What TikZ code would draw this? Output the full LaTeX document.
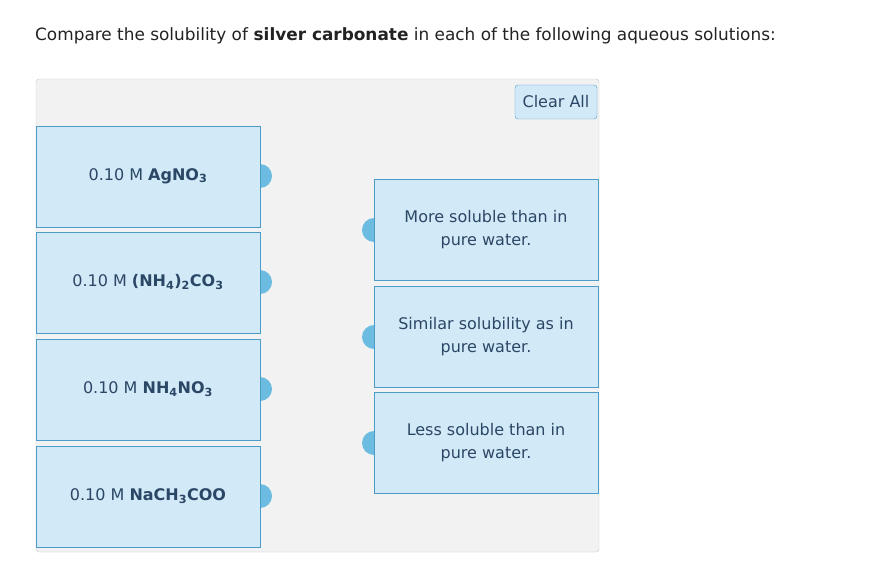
\documentclass[tikz,border=0pt]{standalone}
\usepackage{fontspec}
\setmainfont{DejaVu Sans}
\begin{document}
\begin{tikzpicture}[x=1pt,y=-1pt,
  lbl/.style={font=\fontsize{16}{23}\selectfont, text=labtxt, align=center},
  card/.style={draw=cardborder, fill=cardfill, line width=0.8pt},
  tab/.style={fill=tabcol}]
\definecolor{cardfill}{HTML}{D2E9F7}
\definecolor{cardborder}{HTML}{4D9CC8}
\definecolor{tabcol}{HTML}{6BBCE0}
\definecolor{labtxt}{HTML}{2B4766}
\definecolor{paneltxt}{HTML}{222222}
\useasboundingbox (0,0) rectangle (893,588);
\node[anchor=base west, font=\fontsize{16.9}{20}\selectfont, text=paneltxt, inner sep=0] (title) at (35,41)
  {Compare the solubility of \textbf{silver carbonate} in each of the following aqueous solutions:};
\draw[draw=gray!45, fill=gray!10, rounded corners=3pt] (36,79) rectangle (599,552);
\node[draw=cardborder, fill=cardfill, rounded corners=3pt, minimum width=82, minimum height=34, inner sep=0,
  font=\fontsize{16}{20}\selectfont, text=labtxt] (clear) at (556,102) {Clear All};
% left cards
\foreach \i/\t/\txt in {0/126/{0.10 M \textbf{AgNO\textsubscript{3}}},
  1/232/{0.10 M \textbf{(NH\textsubscript{4})\textsubscript{2}CO\textsubscript{3}}},
  2/339/{0.10 M \textbf{NH\textsubscript{4}NO\textsubscript{3}}},
  3/446/{0.10 M \textbf{NaCH\textsubscript{3}COO}}}{
  \fill[tab] (260,\t+50) circle (12);
  \draw[card] (36,\t) rectangle (260,\t+101);
  \node[lbl] (L\i) at (148,\t+50) {\txt};
}
% right cards
\foreach \i/\t/\txt in {0/179/{More soluble than in\\pure water.},
  1/286/{Similar solubility as in\\pure water.},
  2/392/{Less soluble than in\\pure water.}}{
  \fill[tab] (374,\t+51) circle (12);
  \draw[card] (374,\t) rectangle (598,\t+101);
  \node[lbl] (R\i) at (486,\t+51) {\txt};
}
\end{tikzpicture}
\end{document}
